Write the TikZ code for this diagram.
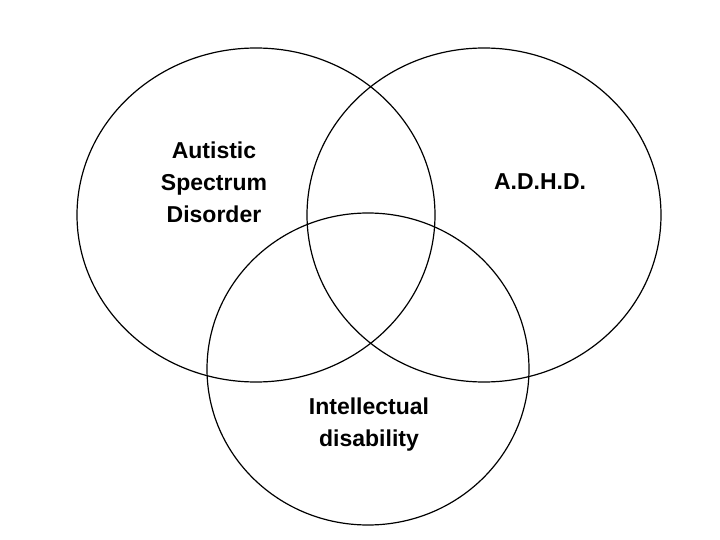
\documentclass[tikz,border=0pt]{standalone}
\usepackage{fontspec}
\setmainfont{Liberation Sans}
\begin{document}
\begin{tikzpicture}[x=1pt,y=-1pt,
  ring/.style={draw=black,line width=1.2pt},
  lbl/.style={font=\fontsize{23}{32}\selectfont\bfseries,align=center}]
\useasboundingbox (0,0) rectangle (720,540);
\fill[white] (0,0) rectangle (720,540);
\draw[ring] (256,215) ellipse [x radius=179,y radius=167];
\draw[ring] (484,215) ellipse [x radius=177,y radius=167];
\draw[ring] (368,369) ellipse [x radius=161,y radius=156];
\node[lbl] (asd) at (214,182) {Autistic\\Spectrum\\Disorder};
\node[lbl] (adhd) at (540,182) {A.D.H.D.};
\node[lbl] (id) at (369,425) {Intellectual\\disability};
\end{tikzpicture}
\end{document}
